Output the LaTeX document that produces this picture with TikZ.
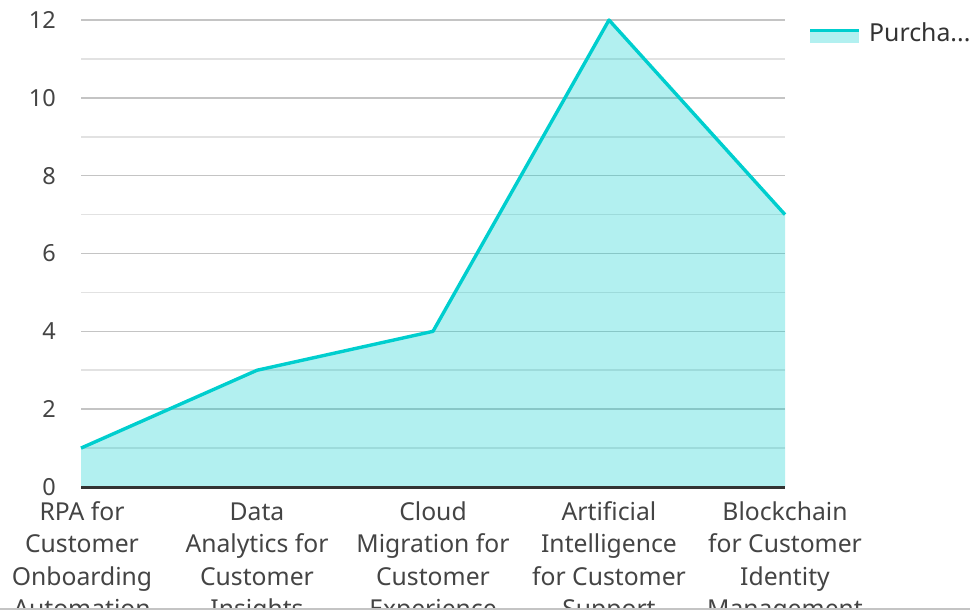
\documentclass[tikz,border=0pt]{standalone}
\usepackage{fontspec}
\setmainfont{Noto Sans}
\definecolor{teal1}{RGB}{0,206,206}
\definecolor{gridmaj}{RGB}{196,196,196}
\definecolor{gridmin}{RGB}{226,226,226}
\definecolor{axisc}{RGB}{51,51,51}
\definecolor{labc}{RGB}{68,68,68}
\tikzset{
  ticklab/.style={anchor=east, inner sep=0pt, text=labc, font=\fontsize{23.5}{28}\selectfont},
  catlab/.style={anchor=base, inner sep=0pt, text=labc, font=\fontsize{24.7}{30}\selectfont},
  legtext/.style={anchor=west, inner sep=0pt, text=axisc, font=\fontsize{24.8}{30}\selectfont},
  majgrid/.style={draw=gridmaj, line width=1.6pt},
  mingrid/.style={draw=gridmin, line width=1.6pt},
  series/.style={draw=teal1, line width=3.4pt, line join=round},
  seriesfill/.style={fill=teal1, fill opacity=0.3},
}
\begin{document}
\begin{tikzpicture}[x=1pt,y=-1pt]
\useasboundingbox (0,0) rectangle (971,614);
% grid
\foreach \v in {1,3,5,7,9,11} {
  \draw[mingrid] (81,{487-38.9167*\v}) -- (785,{487-38.9167*\v});
}
\foreach \v in {2,4,6,8,10,12} {
  \draw[majgrid] (81,{487-38.9167*\v}) -- (785,{487-38.9167*\v});
}
% data points
\coordinate (p1) at (81,{487-38.9167*1});
\coordinate (p2) at (257,{487-38.9167*3});
\coordinate (p3) at (433,{487-38.9167*4});
\coordinate (p4) at (609,{487-38.9167*12});
\coordinate (p5) at (785,{487-38.9167*7});
\coordinate (b1) at (81,487);
\coordinate (b5) at (785,487);
\fill[seriesfill] (b1) -- (p1) -- (p2) -- (p3) -- (p4) -- (p5) -- (b5) -- cycle;
\draw[series] (p1) -- (p2) -- (p3) -- (p4) -- (p5);
% axis
\draw[draw=axisc, line width=3pt] (b1) -- (b5);
% y tick labels
\foreach \v in {0,2,4,6,8,10,12} {
  \node[ticklab] (y\v) at (56,{487-38.9167*\v}) {\v};
}
% category labels (clipped)
\begin{scope}
\clip (0,0) rectangle (971,607);
\foreach \xx/\a/\b/\c/\d [count=\i] in {
  82/RPA for/Customer/Onboarding/Automation,
  257/Data/Analytics for/Customer/Insights,
  433/Cloud/Migration for/Customer/Experience,
  609/Artificial/Intelligence/for Customer/Support,
  785/Blockchain/for Customer/Identity/Management} {
  \node[catlab] (c\i a) at (\xx,520) {\a};
  \node[catlab] (c\i b) at (\xx,552.5) {\b};
  \node[catlab] (c\i c) at (\xx,585) {\c};
  \node[catlab] (c\i d) at (\xx,617.5) {\d};
}
\end{scope}
% bottom rule
\draw[draw=gridmaj, line width=2pt] (0,609) -- (970,609);
% legend
\fill[teal1, fill opacity=0.3] (810,32) rectangle (859,43);
\draw[draw=teal1, line width=3pt] (810,30.5) -- (859,30.5);
\node[legtext] (leg) at (869,32) {Purcha...};
\end{tikzpicture}
\end{document}
